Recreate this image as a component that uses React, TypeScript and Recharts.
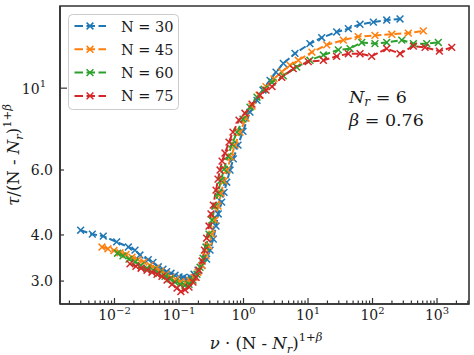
import React from 'react'
import { LineChart, Line, XAxis, YAxis, ReferenceArea } from 'recharts'

// ── data (x = ν·(N−N_r)^{1+β}, y = τ/(N−N_r)^{1+β}) ──
const n30X = [0.00299, 0.00453, 0.0067, 0.0108, 0.0164, 0.0208, 0.0248, 0.0334, 0.0395, 0.0478, 0.0565, 0.0644, 0.0752, 0.0867, 0.1, 0.117, 0.133, 0.151, 0.171, 0.197, 0.228, 0.268, 0.303, 0.34, 0.375, 0.406, 0.459, 0.499, 0.55, 0.618, 0.695, 0.822, 0.982, 1.26, 1.62, 2.0, 2.58, 3.19, 4.14, 6.28, 10.7, 16.3, 27.8, 42.2, 64, 103, 166, 267]
const n30Y = [4.12, 4.02, 3.97, 3.83, 3.71, 3.64, 3.53, 3.43, 3.37, 3.28, 3.23, 3.18, 3.15, 3.11, 3.08, 3.07, 3.05, 3.07, 3.13, 3.21, 3.31, 3.44, 3.64, 3.9, 4.23, 4.56, 4.91, 5.22, 5.56, 6.0, 6.43, 7.01, 7.64, 8.61, 9.27, 9.88, 10.5, 11.05, 11.67, 12.42, 13.2, 13.7, 14.2, 14.5, 14.9, 15.1, 15.3, 15.4]

const n45X = [0.0064, 0.00792, 0.00982, 0.01216, 0.01507, 0.01866, 0.0231, 0.0286, 0.0355, 0.044, 0.0526, 0.0628, 0.0752, 0.0897, 0.107, 0.1285, 0.148, 0.171, 0.197, 0.228, 0.262, 0.292, 0.325, 0.361, 0.403, 0.448, 0.499, 0.555, 0.64, 0.738, 0.883, 1.094, 1.355, 1.738, 2.23, 2.97, 3.92, 5.26, 7.08, 11.5, 19.5, 35.2, 60, 109, 199, 359, 612]
const n45Y = [3.71, 3.67, 3.63, 3.58, 3.54, 3.48, 3.43, 3.38, 3.31, 3.25, 3.19, 3.13, 3.07, 3.03, 2.99, 2.98, 3.01, 3.07, 3.17, 3.31, 3.51, 3.73, 4.02, 4.39, 4.79, 5.19, 5.6, 6.0, 6.5, 7.01, 7.6, 8.29, 8.94, 9.57, 10.1, 10.6, 11.07, 11.54, 11.9, 12.52, 13.1, 13.5, 13.8, 13.9, 14.0, 14.1, 14.3]

const n60X = [0.01113, 0.01355, 0.0168, 0.0208, 0.0258, 0.0319, 0.0395, 0.049, 0.0607, 0.0724, 0.0867, 0.1038, 0.124, 0.143, 0.165, 0.19, 0.212, 0.236, 0.262, 0.292, 0.325, 0.361, 0.403, 0.448, 0.499, 0.575, 0.664, 0.792, 0.982, 1.26, 1.62, 2.08, 2.77, 4.14, 6.68, 10.7, 17.3, 29.5, 44.8, 68, 109, 166, 284, 430, 692, 1047]
const n60Y = [3.57, 3.51, 3.44, 3.38, 3.31, 3.25, 3.21, 3.15, 3.09, 3.04, 2.98, 2.935, 2.92, 2.94, 3.02, 3.13, 3.27, 3.46, 3.71, 4.02, 4.39, 4.79, 5.19, 5.63, 6.03, 6.54, 7.05, 7.6, 8.24, 8.88, 9.45, 9.94, 10.38, 10.8, 11.4, 11.9, 12.3, 12.7, 12.8, 13.3, 13.2, 13.3, 13.5, 13.2, 13.2, 13.3]

const n75X = [0.01738, 0.0215, 0.0258, 0.0319, 0.0381, 0.0456, 0.0545, 0.0652, 0.0778, 0.0931, 0.107, 0.124, 0.143, 0.165, 0.184, 0.204, 0.228, 0.248, 0.268, 0.292, 0.313, 0.34, 0.375, 0.403, 0.433, 0.465, 0.516, 0.596, 0.687, 0.851, 1.054, 1.355, 1.8, 2.23, 2.77, 3.92, 5.9, 10.1, 17.3, 27.8, 42.2, 64, 97, 166, 267, 430, 652, 1086, 1690]
const n75Y = [3.34, 3.29, 3.25, 3.21, 3.17, 3.13, 3.09, 3.02, 2.94, 2.87, 2.81, 2.84, 2.89, 2.98, 3.07, 3.21, 3.4, 3.64, 3.92, 4.23, 4.56, 4.82, 5.29, 5.67, 6.0, 6.34, 6.67, 7.14, 7.6, 8.19, 8.55, 9.05, 9.57, 9.88, 10.1, 10.7, 11.3, 11.8, 11.9, 12.2, 12.4, 12.4, 12.2, 12.8, 12.4, 13.0, 12.9, 12.6, 12.9]

const seriesNames = ['N = 30', 'N = 45', 'N = 60', 'N = 75']
const seriesColors = ['#1f77b4', '#ff7f0e', '#2ca02c', '#d62728']

const X_DOMAIN = [0.00143, 3130]
const Y_DOMAIN = [2.6, 16.7]
const xMajorTicks = [0.01, 0.1, 1, 10, 100, 1000]
const xMajorExp = ['−2', '−1', '0', '1', '2', '3']
const xDecades = [0.001, 0.01, 0.1, 1, 10, 100, 1000]
const yTicks = [3, 4, 6, 10]
const yTickLabels = ['3.0', '4.0', '6.0', '10']

const xMinorTicks = xDecades
  .flatMap(d => [2, 3, 4, 5, 6, 7, 8, 9].map(m => +(d * m).toPrecision(3)))
  .filter(v => v > X_DOMAIN[0] && v < X_DOMAIN[1])
const xTicks = [...xMajorTicks, ...xMinorTicks].sort((a, b) => a - b)

const zip = (xs: number[], ys: number[]) => xs.map((x, i) => ({ x, y: ys[i] }))
const seriesData = [zip(n30X, n30Y), zip(n45X, n45Y), zip(n60X, n60Y), zip(n75X, n75Y)]

const FONT = '"DejaVu Serif", "Liberation Serif", serif'
const fontStyle = { fontFamily: FONT }
const AXIS = '#333333'
const TXT = '#1a1a1a'

function XTick({ x, y, payload }: any) {
  const idx = xMajorTicks.findIndex(t => Math.abs(t - payload.value) / t < 1e-6)
  const len = idx >= 0 ? 6 : 3.5
  return (
    <g>
      <line x1={x} x2={x} y1={y} y2={y - len} stroke={AXIS} strokeWidth={1.2} />
      {idx >= 0 && (
        <text x={x} y={y + 16} textAnchor="middle" fontSize={14} fill={TXT} style={fontStyle}>
          10<tspan dy={-6} fontSize={10}>{xMajorExp[idx]}</tspan>
        </text>
      )}
    </g>
  )
}

function YTick({ x, y, payload }: any) {
  const idx = yTicks.indexOf(payload.value)
  const isMajor = payload.value === 10
  return (
    <g>
      <line x1={x} x2={x + (isMajor ? 7 : 4)} y1={y} y2={y} stroke={AXIS} strokeWidth={1.2} />
      {isMajor ? (
        <text x={x - 14} y={y + 6} textAnchor="end" fontSize={14} fill={TXT} style={fontStyle}>
          {yTickLabels[idx]}<tspan dy={-7} fontSize={10}>1</tspan>
        </text>
      ) : (
        <text x={x - 7} y={y + 5} textAnchor="end" fontSize={14} fill={TXT} style={fontStyle}>
          {yTickLabels[idx]}
        </text>
      )}
    </g>
  )
}

const crossDot = (color: string) => (p: any) => {
  const { cx, cy, index } = p
  const s = 3.4
  return (
    <path
      key={index}
      d={`M${cx - s},${cy - s}L${cx + s},${cy + s}M${cx - s},${cy + s}L${cx + s},${cy - s}`}
      stroke={color}
      strokeWidth={1.5}
      fill="none"
    />
  )
}

export default function App() {
  return (
    <div style={{ position: 'absolute', left: 0, top: 0, width: 474, height: 355, background: '#fff', fontFamily: FONT }}>
      <LineChart width={474} height={355} margin={{ top: 6, right: 5, bottom: 0, left: 0 }}>
        <XAxis
          dataKey="x"
          type="number"
          scale="log"
          domain={X_DOMAIN}
          allowDataOverflow
          ticks={xTicks}
          interval={0}
          tick={<XTick />}
          tickSize={0}
          tickMargin={0}
          height={51}
          axisLine={{ stroke: AXIS, strokeWidth: 1.6 }}
          tickLine={false}
        />
        <YAxis
          type="number"
          scale="log"
          domain={Y_DOMAIN}
          allowDataOverflow
          ticks={yTicks}
          interval={0}
          tick={<YTick />}
          tickSize={0}
          tickMargin={0}
          width={60}
          axisLine={{ stroke: AXIS, strokeWidth: 1.6 }}
          tickLine={false}
        />
        <ReferenceArea
          x1={X_DOMAIN[0]}
          x2={X_DOMAIN[1]}
          y1={Y_DOMAIN[0]}
          y2={Y_DOMAIN[1]}
          fill="none"
          stroke={AXIS}
          strokeWidth={1.6}
          ifOverflow="visible"
        />
        {seriesData.map((d, i) => (
          <Line
            key={seriesNames[i]}
            data={d}
            dataKey="y"
            type="linear"
            stroke={seriesColors[i]}
            strokeWidth={2}
            strokeDasharray="7 3"
            dot={crossDot(seriesColors[i])}
            activeDot={false}
            isAnimationActive={false}
          />
        ))}
      </LineChart>

      {/* labels, legend, annotation */}
      <svg
        width={474}
        height={355}
        style={{ position: 'absolute', left: 0, top: 0, pointerEvents: 'none', fontFamily: FONT }}
        fill={TXT}
      >
        <text x={266} y={349} textAnchor="middle" fontSize={16.5}>
          <tspan fontStyle="italic">ν</tspan> · (N - <tspan fontStyle="italic">N</tspan>
          <tspan fontSize={11.5} dy={4} fontStyle="italic">r</tspan>
          <tspan dy={-4}>)</tspan>
          <tspan fontSize={11.5} dy={-8}>1+</tspan>
          <tspan fontSize={11.5} fontStyle="italic">β</tspan>
        </text>
        <text transform="translate(19,155) rotate(-90)" textAnchor="middle" fontSize={16.5}>
          <tspan fontStyle="italic">τ</tspan>/(N - <tspan fontStyle="italic">N</tspan>
          <tspan fontSize={11.5} dy={4} fontStyle="italic">r</tspan>
          <tspan dy={-4}>)</tspan>
          <tspan fontSize={11.5} dy={-8}>1+</tspan>
          <tspan fontSize={11.5} fontStyle="italic">β</tspan>
        </text>

        <rect x={68.5} y={14.5} width={110} height={95} rx={4} fill="#fff" fillOpacity={0.8} stroke="#cccccc" />
        {seriesNames.map((name, i) => {
          const cy = 26 + i * 23.3
          const c = seriesColors[i]
          return (
            <g key={name}>
              <line x1={74.5} x2={106} y1={cy} y2={cy} stroke={c} strokeWidth={2} strokeDasharray="8.5 3.5" />
              <path d={`M${90 - 3.4},${cy - 3.4}L${90 + 3.4},${cy + 3.4}M${90 - 3.4},${cy + 3.4}L${90 + 3.4},${cy - 3.4}`} stroke={c} strokeWidth={1.5} />
              <text x={121} y={cy + 5.5} fontSize={14.5}>{name}</text>
            </g>
          )
        })}

        <text x={349} y={103} fontSize={17.5}>
          <tspan fontStyle="italic">N</tspan>
          <tspan fontSize={12} dy={3} fontStyle="italic">r</tspan>
          <tspan dy={-3}> = 6</tspan>
        </text>
        <text x={349} y={126} fontSize={17.5}>
          <tspan fontStyle="italic">β</tspan> = 0.76
        </text>
      </svg>
    </div>
  )
}
